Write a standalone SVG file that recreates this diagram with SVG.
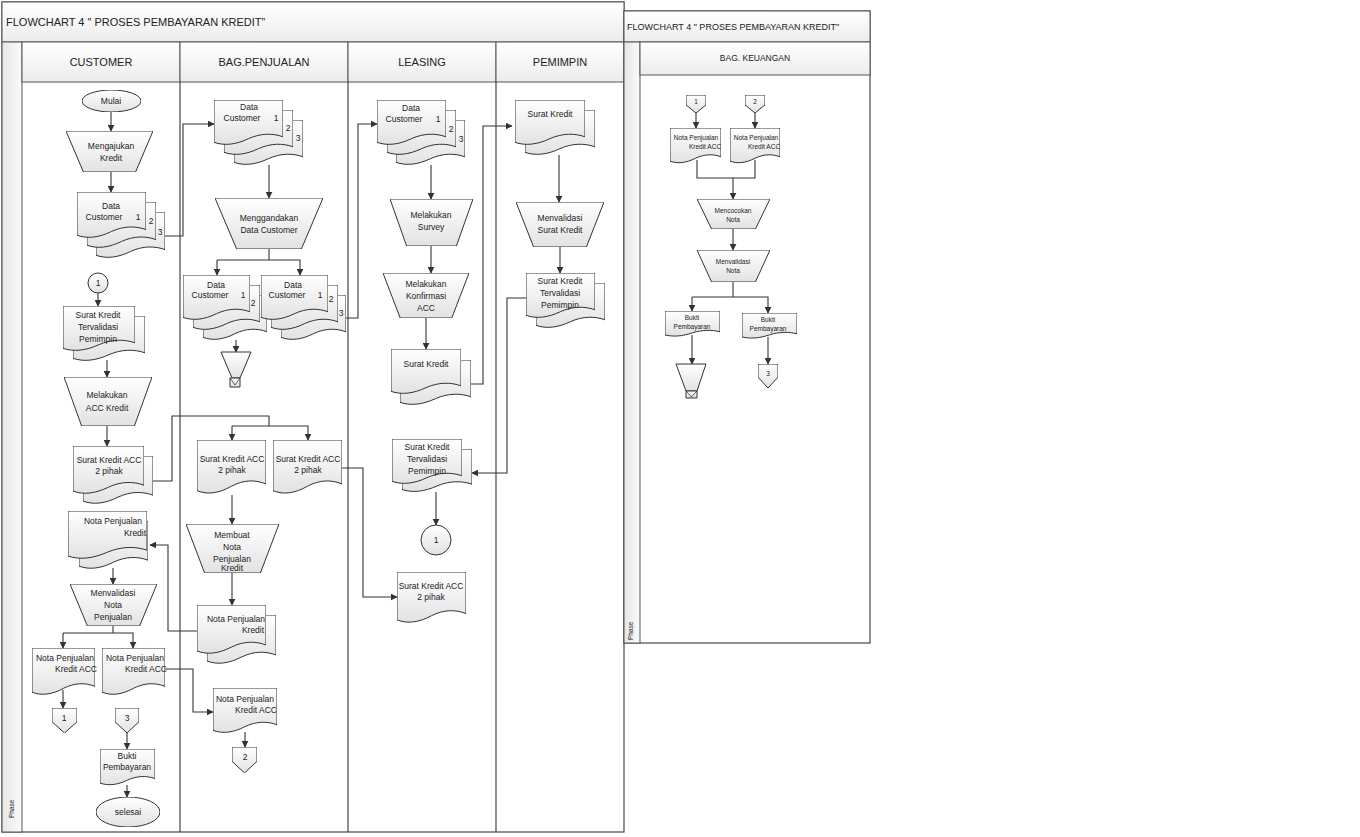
<svg xmlns="http://www.w3.org/2000/svg" xmlns:xlink="http://www.w3.org/1999/xlink" width="1360" height="837" viewBox="0 0 1360 837">
<style>
text{font-family:"Liberation Sans",Arial,sans-serif;font-size:8.5px;fill:#222;text-anchor:middle}
.sm{font-size:6.5px}
.hd{font-size:11px}
.ti{font-size:11px;text-anchor:start}
.fr{fill:#fff;stroke:#555;stroke-width:1.3}
.bar{fill:url(#hg);stroke:#555;stroke-width:1}
.ln{fill:none;stroke:#333;stroke-width:1.1}
.ar{fill:none;stroke:#333;stroke-width:1.1;marker-end:url(#ah)}
.sh{fill:url(#sg);stroke:#333;stroke-width:1;vector-effect:non-scaling-stroke}
</style>
<defs>
<linearGradient id="sg" x1="0" y1="0" x2="0" y2="1"><stop offset="0" stop-color="#fff"/><stop offset="1" stop-color="#e2e2e2"/></linearGradient>
<linearGradient id="hg" x1="0" y1="0" x2="0" y2="1"><stop offset="0" stop-color="#fff"/><stop offset="1" stop-color="#ececec"/></linearGradient>
<linearGradient id="pg" x1="0" y1="0" x2="1" y2="0"><stop offset="0" stop-color="#e6e6e6"/><stop offset="1" stop-color="#fafafa"/></linearGradient>
<marker id="ah" viewBox="0 0 10 10" refX="9" refY="5" markerWidth="7" markerHeight="7" orient="auto" markerUnits="userSpaceOnUse"><path d="M0,0 L10,5 L0,10 Z" fill="#333"/></marker>
<symbol id="doc" viewBox="0 0 100 100" preserveAspectRatio="none"><path class="sh" d="M0,0 H100 V80 C85,72 68,72 50,84 C32,97 15,100 0,92 Z"/></symbol>
<symbol id="trap" viewBox="0 0 100 100" preserveAspectRatio="none"><path class="sh" d="M0,0 H100 L80,100 H20 Z"/></symbol>
<symbol id="off" viewBox="0 0 100 100" preserveAspectRatio="none"><path class="sh" d="M0,0 H100 V55 L50,100 L0,55 Z"/></symbol>
<symbol id="term" viewBox="0 0 100 100" preserveAspectRatio="none"><rect class="sh" x="0" y="0" width="100" height="100" rx="50" ry="50"/></symbol>
</defs>
<rect width="1360" height="837" fill="#fff"/>

<g id="frame-main">
<rect class="fr" x="2" y="2" width="622" height="830"/>
<rect class="bar" x="2" y="2" width="622" height="40"/>
<text class="ti" x="6" y="26">FLOWCHART 4 " PROSES PEMBAYARAN KREDIT”</text>
<rect x="2" y="42" width="20" height="790" fill="url(#pg)" stroke="#555"/>
<text class="sm" transform="translate(14,818) rotate(-90)" style="text-anchor:start">Phase</text>
<rect class="bar" x="22" y="42" width="158" height="40"/><text class="hd" x="101" y="66">CUSTOMER</text>
<rect class="bar" x="180" y="42" width="168" height="40"/><text class="hd" x="264" y="66">BAG.PENJUALAN</text>
<rect class="bar" x="348" y="42" width="148" height="40"/><text class="hd" x="422" y="66">LEASING</text>
<rect class="bar" x="496" y="42" width="128" height="40"/><text class="hd" x="560" y="66">PEMIMPIN</text>
<path class="ln" d="M180,82V832M348,82V832M496,82V832"/>
</g>

<g id="frame-keuangan">
<rect class="fr" x="624" y="11" width="246" height="632"/>
<rect class="bar" x="624" y="11" width="246" height="31"/>
<text x="627" y="30" style="font-size:9px;text-anchor:start">FLOWCHART 4 " PROSES PEMBAYARAN KREDIT"</text>
<rect x="624" y="42" width="16" height="601" fill="url(#pg)" stroke="#555"/>
<text class="sm" transform="translate(633,640) rotate(-90)" style="text-anchor:start">Phase</text>
<rect class="bar" x="640" y="42" width="230" height="33"/><text x="755" y="61">BAG. KEUANGAN</text>
</g>

<g id="connectors">
<path class="ar" d="M111,112V131"/>
<path class="ar" d="M111,172V192"/>
<path class="ar" d="M165,236H183V124H214"/>
<path class="ar" d="M98,293V306"/>
<path class="ar" d="M107,360V377"/>
<path class="ar" d="M107,426V446"/>
<path class="ln" d="M153,481H172V416H269V426"/>
<path class="ar" d="M232,426H308V440"/><path class="ar" d="M232,426V440"/>
<path class="ar" d="M342,468H363V597H397"/>
<path class="ar" d="M232,495V524"/>
<path class="ar" d="M232,573V605"/>
<path class="ar" d="M197,631H168V545H150"/>
<path class="ar" d="M113,568V584"/>
<path class="ln" d="M113,626V633"/>
<path class="ar" d="M63,633V648"/><path class="ar" d="M63,633H133V648"/>
<path class="ar" d="M63,690V708"/>
<path class="ar" d="M165,669H193V712H213"/>
<path class="ar" d="M245,732V747"/>
<path class="ar" d="M127,733V749"/>
<path class="ar" d="M127,785V797"/>
<path class="ar" d="M269,165V198"/>
<path class="ln" d="M269,249V260"/>
<path class="ar" d="M217,260V275"/><path class="ar" d="M217,260H300V275"/>
<path class="ar" d="M236,340V352"/>
<path class="ar" d="M346,318H358V124H377"/>
<path class="ar" d="M431,165V199"/>
<path class="ar" d="M431,246V273"/>
<path class="ar" d="M426,318V349"/>
<path class="ar" d="M471,384H483V126H512"/>
<path class="ar" d="M527,298H507V473H472"/>
<path class="ar" d="M436,492V525"/>
<path class="ar" d="M559,155V202"/>
<path class="ar" d="M560,247V273"/>
<path class="ar" d="M696,113V128"/><path class="ar" d="M755,113V128"/>
<path class="ln" d="M697,160V178H755V160"/><path class="ar" d="M733,178V199"/>
<path class="ar" d="M733,229V250"/>
<path class="ln" d="M733,282V297"/>
<path class="ar" d="M692,297V311"/><path class="ar" d="M692,297H768V313"/>
<path class="ar" d="M692,335V364"/>
<path class="ar" d="M768,337V364"/>
</g>

<!-- CUSTOMER -->
<g id="mulai"><use href="#term" x="82" y="90" width="59" height="22"/><text x="111" y="104">Mulai</text></g>
<g id="mengajukan"><use href="#trap" x="66" y="131" width="87" height="41"/><text x="111" y="149">Mengajukan</text><text x="111" y="161">Kredit</text></g>
<g id="cust-datacustomer">
<use href="#doc" x="96" y="212" width="69" height="47"/><use href="#doc" x="87" y="202" width="69" height="47"/><use href="#doc" x="77" y="192" width="69" height="47"/>
<text x="111" y="209">Data</text><text x="104" y="220">Customer</text><text x="138" y="220">1</text><text x="151" y="224">2</text><text x="160" y="235">3</text></g>
<g id="con1-cust"><circle cx="98" cy="283" r="10" class="sh"/><text x="98" y="286">1</text></g>
<g id="cust-suratvalid">
<use href="#doc" x="73" y="316" width="72" height="46"/><use href="#doc" x="63" y="306" width="72" height="46"/>
<text x="98" y="318">Surat Kredit</text><text x="98" y="330">Tervalidasi</text><text x="98" y="342">Pemimpin</text></g>
<g id="acc"><use href="#trap" x="64" y="377" width="88" height="49"/><text x="107" y="398">Melakukan</text><text x="107" y="411">ACC Kredit</text></g>
<g id="cust-suratacc">
<use href="#doc" x="83" y="456" width="70" height="49"/><use href="#doc" x="73" y="446" width="71" height="49"/>
<text x="109" y="463">Surat Kredit ACC</text><text x="109" y="474">2 pihak</text></g>
<g id="cust-nota">
<use href="#doc" x="79" y="521" width="69" height="49"/><use href="#doc" x="68" y="511" width="79" height="49"/>
<text x="113" y="524">Nota Penjualan</text><text x="135" y="536">Kredit</text></g>
<g id="valnota"><use href="#trap" x="70" y="584" width="87" height="42"/><text x="113" y="596">Menvalidasi</text><text x="113" y="608">Nota</text><text x="113" y="620">Penjualan</text></g>
<g id="cust-notaacc1"><use href="#doc" x="32" y="648" width="63" height="48"/><text x="65" y="661">Nota Penjualan</text><text x="76" y="672">Kredit ACC</text></g>
<g id="cust-notaacc2"><use href="#doc" x="102" y="648" width="63" height="48"/><text x="135" y="661">Nota Penjualan</text><text x="146" y="672">Kredit ACC</text></g>
<g id="off1"><use href="#off" x="52" y="708" width="25" height="25"/><text x="64" y="721">1</text></g>
<g id="off3-cust"><use href="#off" x="115" y="708" width="24" height="25"/><text x="127" y="721">3</text></g>
<g id="cust-bukti"><use href="#doc" x="100" y="749" width="55" height="37"/><text x="127" y="759">Bukti</text><text x="127" y="770">Pembayaran</text></g>
<g id="selesai"><use href="#term" x="96" y="797" width="64" height="30"/><text x="128" y="815">selesai</text></g>

<!-- BAG PENJUALAN -->
<g id="pj-datacustomer">
<use href="#doc" x="234" y="120" width="69" height="46"/><use href="#doc" x="224" y="110" width="69" height="46"/><use href="#doc" x="214" y="100" width="69" height="46"/>
<text x="249" y="110">Data</text><text x="242" y="121">Customer</text><text x="276" y="121">1</text><text x="288" y="131">2</text><text x="298" y="141">3</text></g>
<g id="gandakan"><use href="#trap" x="215" y="198" width="108" height="51"/><text x="269" y="221">Menggandakan</text><text x="269" y="233">Data Customer</text></g>
<g id="pj-dc-a">
<use href="#doc" x="203" y="295" width="64" height="46"/><use href="#doc" x="193" y="285" width="67" height="46"/><use href="#doc" x="183" y="275" width="67" height="46"/>
<text x="216" y="288">Data</text><text x="210" y="298">Customer</text><text x="243" y="298">1</text><text x="253" y="306">2</text></g>
<g id="pj-dc-b">
<use href="#doc" x="281" y="295" width="65" height="46"/><use href="#doc" x="271" y="285" width="67" height="46"/><use href="#doc" x="261" y="275" width="67" height="46"/>
<text x="293" y="288">Data</text><text x="287" y="298">Customer</text><text x="320" y="298">1</text><text x="331" y="302">2</text><text x="341" y="316">3</text></g>
<g id="arsip-pj"><path class="sh" d="M221,352H251L240,378H232Z"/><rect class="sh" x="230" y="378" width="10" height="9"/><path class="ln" d="M230,378L235,385L240,378" style="stroke-width:0.8"/></g>
<g id="pj-suratacc1"><use href="#doc" x="197" y="440" width="69" height="55"/><text x="232" y="462">Surat Kredit ACC</text><text x="232" y="473">2 pihak</text></g>
<g id="pj-suratacc2"><use href="#doc" x="273" y="440" width="69" height="55"/><text x="308" y="462">Surat Kredit ACC</text><text x="308" y="473">2 pihak</text></g>
<g id="buatnota"><use href="#trap" x="186" y="524" width="93" height="49"/><text x="232" y="538">Membuat</text><text x="232" y="550">Nota</text><text x="232" y="562">Penjualan</text><text x="232" y="574" dy="-3">Kredit</text></g>
<g id="pj-nota">
<use href="#doc" x="207" y="615" width="69" height="50"/><use href="#doc" x="197" y="605" width="69" height="50"/>
<text x="236" y="622">Nota Penjualan</text><text x="253" y="633">Kredit</text></g>
<g id="pj-notaacc"><use href="#doc" x="213" y="688" width="64" height="46"/><text x="245" y="702">Nota Penjualan</text><text x="256" y="713">Kredit ACC</text></g>
<g id="off2"><use href="#off" x="232" y="747" width="25" height="26"/><text x="245" y="760">2</text></g>

<!-- LEASING -->
<g id="ls-datacustomer">
<use href="#doc" x="396" y="120" width="69" height="46"/><use href="#doc" x="387" y="110" width="69" height="46"/><use href="#doc" x="377" y="100" width="69" height="46"/>
<text x="411" y="111">Data</text><text x="404" y="122">Customer</text><text x="438" y="122">1</text><text x="451" y="132">2</text><text x="461" y="142">3</text></g>
<g id="survey"><use href="#trap" x="390" y="199" width="83" height="47"/><text x="431" y="218">Melakukan</text><text x="431" y="230">Survey</text></g>
<g id="konfirmasi"><use href="#trap" x="383" y="273" width="86" height="45"/><text x="426" y="287">Melakukan</text><text x="426" y="299">Konfirmasi</text><text x="426" y="311">ACC</text></g>
<g id="ls-surat">
<use href="#doc" x="400" y="360" width="71" height="46"/><use href="#doc" x="391" y="349" width="70" height="46"/>
<text x="426" y="367">Surat Kredit</text></g>
<g id="ls-suratvalid">
<use href="#doc" x="402" y="449" width="70" height="44"/><use href="#doc" x="392" y="439" width="70" height="46"/>
<text x="427" y="450">Surat Kredit</text><text x="427" y="462">Tervalidasi</text><text x="427" y="474">Pemimpin</text></g>
<g id="con1-ls"><circle cx="436" cy="540" r="15" class="sh"/><text x="436" y="543">1</text></g>
<g id="ls-suratacc"><use href="#doc" x="397" y="572" width="69" height="52"/><text x="431" y="589">Surat Kredit ACC</text><text x="431" y="600">2 pihak</text></g>

<!-- PEMIMPIN -->
<g id="pm-surat">
<use href="#doc" x="525" y="110" width="70" height="46"/><use href="#doc" x="515" y="100" width="70" height="46"/>
<text x="550" y="117">Surat Kredit</text></g>
<g id="validasi-surat"><use href="#trap" x="516" y="202" width="88" height="45"/><text x="560" y="221">Menvalidasi</text><text x="560" y="233">Surat Kredit</text></g>
<g id="pm-suratvalid">
<use href="#doc" x="536" y="283" width="69" height="46"/><use href="#doc" x="526" y="273" width="69" height="46"/>
<text x="560" y="284">Surat Kredit</text><text x="560" y="296">Tervalidasi</text><text x="560" y="308">Pemimpin</text></g>

<!-- KEUANGAN -->
<g id="k-off1"><use href="#off" x="686" y="95" width="20" height="18"/><text class="sm" x="696" y="104">1</text></g>
<g id="k-off2"><use href="#off" x="745" y="95" width="20" height="18"/><text class="sm" x="755" y="104">2</text></g>
<g id="k-nota1"><use href="#doc" x="670" y="128" width="51" height="36"/><text class="sm" x="696" y="140">Nota Penjualan</text><text class="sm" x="705" y="149">Kredit ACC</text></g>
<g id="k-nota2"><use href="#doc" x="730" y="128" width="50" height="36"/><text class="sm" x="756" y="140">Nota Penjualan</text><text class="sm" x="764" y="149">Kredit ACC</text></g>
<g id="cocok"><use href="#trap" x="697" y="199" width="73" height="30"/><text class="sm" x="733" y="213">Mencocokan</text><text class="sm" x="733" y="222">Nota</text></g>
<g id="k-valid"><use href="#trap" x="697" y="250" width="73" height="32"/><text class="sm" x="733" y="264">Menvalidasi</text><text class="sm" x="733" y="273">Nota</text></g>
<g id="k-bukti1"><use href="#doc" x="665" y="311" width="55" height="26"/><text class="sm" x="692" y="320">Bukti</text><text class="sm" x="692" y="329">Pembayaran</text></g>
<g id="k-bukti2"><use href="#doc" x="742" y="313" width="55" height="26"/><text class="sm" x="768" y="322">Bukti</text><text class="sm" x="768" y="331">Pembayaran</text></g>
<g id="k-arsip"><path class="sh" d="M676,364H706L697,391H686Z"/><rect class="sh" x="686" y="391" width="11" height="7"/><path class="ln" d="M686,391L691.5,397L697,391" style="stroke-width:0.8"/></g>
<g id="k-off3"><use href="#off" x="758" y="364" width="20" height="24"/><text class="sm" x="768" y="376">3</text></g>
</svg>
